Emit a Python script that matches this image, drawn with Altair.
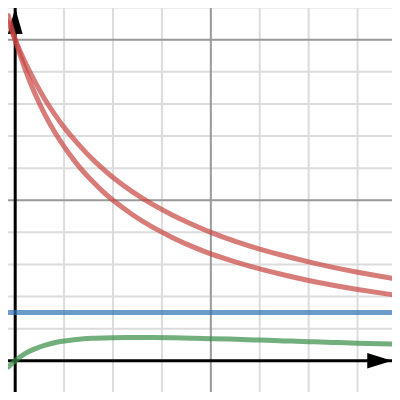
import altair as alt
import pandas as pd

# ---- data ----
x_vals = [-0.07, 0.0, 0.1, 0.2, 0.3, 0.4, 0.5, 0.6, 0.7, 0.8, 0.9, 1.0, 1.2, 1.4,
          1.6, 1.8, 2.0, 2.25, 2.5, 2.75, 3.0, 3.25, 3.5, 3.85]
red_fast = [10.75, 10.0, 9.09, 8.33, 7.69, 7.14, 6.67, 6.25, 5.88, 5.56, 5.26, 5.0, 4.55, 4.17,
            3.85, 3.57, 3.33, 3.08, 2.86, 2.67, 2.5, 2.35, 2.22, 2.06]
red_slow = [10.55, 10.0, 9.30, 8.70, 8.16, 7.69, 7.27, 6.90, 6.56, 6.25, 5.97, 5.71, 5.26, 4.88,
            4.55, 4.26, 4.0, 3.72, 3.48, 3.27, 3.08, 2.91, 2.76, 2.57]
green = [-0.19, 0.0, 0.22, 0.37, 0.48, 0.56, 0.615, 0.655, 0.685, 0.70, 0.713, 0.72, 0.725, 0.725,
         0.72, 0.705, 0.69, 0.67, 0.645, 0.62, 0.595, 0.57, 0.55, 0.52]
blue_level = [1.5]

x_minor = [0.5, 1.0, 1.5, 2.5, 3.0, 3.5]
x_major = [2.0]
y_minor = [1, 2, 3, 4, 6, 7, 8, 9, 11]
y_major = [5, 10]

X_DOMAIN = [-0.0736, 3.852]
Y_DOMAIN = [-0.972, 10.987]

RED = "#c74440"
BLUE = "#2d70b3"
GREEN = "#388c46"

SIZE = 384

xs = alt.Scale(domain=X_DOMAIN, nice=False, zero=False)
ys = alt.Scale(domain=Y_DOMAIN, nice=False, zero=False)

curves = pd.DataFrame({"x": x_vals, "a": red_fast, "b": red_slow, "g": green})

vminor = alt.Chart(pd.DataFrame({"v": x_minor})).mark_rule(
    color="#dcdcdc", strokeWidth=2).encode(x=alt.X("v:Q", scale=xs, axis=None))
vmajor = alt.Chart(pd.DataFrame({"v": x_major})).mark_rule(
    color="#999999", strokeWidth=2).encode(x=alt.X("v:Q", scale=xs, axis=None))
hminor = alt.Chart(pd.DataFrame({"h": y_minor})).mark_rule(
    color="#dcdcdc", strokeWidth=2, clip=True).encode(y=alt.Y("h:Q", scale=ys, axis=None))
hmajor = alt.Chart(pd.DataFrame({"h": y_major})).mark_rule(
    color="#999999", strokeWidth=2).encode(y=alt.Y("h:Q", scale=ys, axis=None))

xaxis = alt.Chart(pd.DataFrame({"h": [0]})).mark_rule(
    color="black", strokeWidth=3).encode(y=alt.Y("h:Q", scale=ys, axis=None))
yaxis = alt.Chart(pd.DataFrame({"v": [0]})).mark_rule(
    color="black", strokeWidth=3).encode(x=alt.X("v:Q", scale=xs, axis=None))

up_arrow = alt.Chart(pd.DataFrame({"x": [0], "y": [Y_DOMAIN[1]]})).mark_point(
    shape="M0,0L0.57,2L-0.57,2Z", size=680, filled=True, color="black",
    opacity=1, strokeWidth=0).encode(
    x=alt.X("x:Q", scale=xs, axis=None), y=alt.Y("y:Q", scale=ys, axis=None))
right_arrow = alt.Chart(pd.DataFrame({"x": [X_DOMAIN[1]], "y": [0]})).mark_point(
    shape="M0,0L-1.9,-0.6L-1.9,0.6Z", size=680, filled=True, color="black",
    opacity=1, strokeWidth=0).encode(
    x=alt.X("x:Q", scale=xs, axis=None), y=alt.Y("y:Q", scale=ys, axis=None))


def curve(col, color):
    return alt.Chart(curves).mark_line(
        color=color, opacity=0.7, strokeWidth=5, interpolate="natural",
        strokeCap="round", clip=True).encode(
        x=alt.X("x:Q", scale=xs, axis=None), y=alt.Y(f"{col}:Q", scale=ys, axis=None))


blue = alt.Chart(pd.DataFrame({"h": blue_level})).mark_rule(
    color=BLUE, opacity=0.7, strokeWidth=5).encode(y=alt.Y("h:Q", scale=ys, axis=None))

chart = alt.layer(
    vminor, hminor, vmajor, hmajor, xaxis, yaxis, up_arrow, right_arrow,
    curve("b", RED), curve("a", RED), blue, curve("g", GREEN),
).properties(
    width=SIZE, height=SIZE, padding=0,
    autosize=alt.AutoSizeParams(type="none"),
    background="white",
).configure_view(stroke=None)

chart.save("out.html", embed_options={"renderer": "svg", "actions": False})
